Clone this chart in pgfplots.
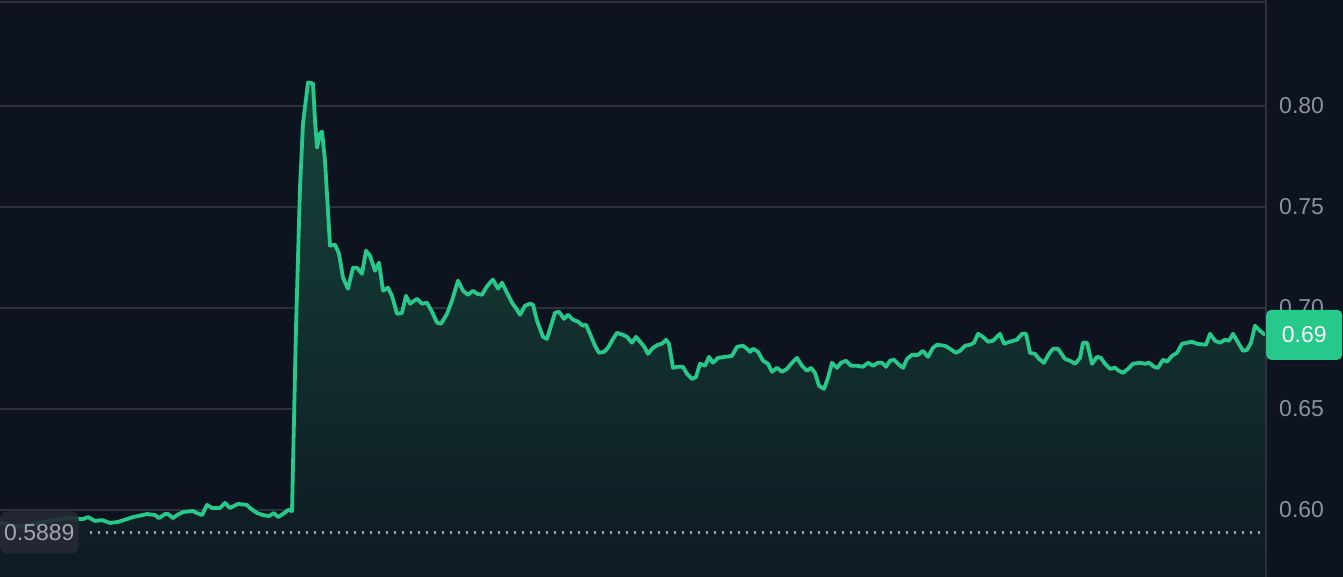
\documentclass[border=0pt]{standalone}
\usepackage{fontspec}
\setmainfont{Liberation Sans}
\usepackage{pgfplots}
\usepackage{pgfplotstable}
\pgfplotsset{compat=1.18}
\definecolor{bg}{RGB}{13,20,32}
\definecolor{gridc}{RGB}{44,49,61}
\definecolor{lbl}{RGB}{138,145,160}
\definecolor{lineg}{RGB}{38,201,138}
\definecolor{filltop}{RGB}{22,68,58}
\definecolor{fillbot}{RGB}{14,26,34}
\definecolor{tagbg}{RGB}{37,41,51}
\definecolor{dotc}{RGB}{160,166,176}

% x = time step, y = price
\pgfplotstableread{
x y
0 0.5936
7 0.5931
20 0.5916
33 0.5931
50 0.5946
67 0.5960
83 0.5955
88 0.5965
95 0.5946
102 0.5950
110 0.5936
118 0.5941
127 0.5955
133 0.5965
138 0.5970
147 0.5980
155 0.5975
159 0.5960
165 0.5980
168 0.5980
173 0.5960
177 0.5975
183 0.5990
193 0.5995
197 0.5985
202 0.5975
207 0.6025
212 0.6010
220 0.6010
225 0.6035
230 0.6010
238 0.6030
247 0.6025
250 0.6010
257 0.5985
263 0.5975
269 0.5970
274 0.5985
278 0.5965
283 0.5980
288 0.6000
292 0.5995
296 0.6901
300 0.7594
303 0.7911
308 0.8114
313 0.8109
315 0.7926
317 0.7792
320 0.7861
322 0.7871
325 0.7728
330 0.7307
335 0.7312
339 0.7267
343 0.7148
348 0.7094
353 0.7198
357 0.7198
362 0.7168
366 0.7282
370 0.7257
375 0.7183
379 0.7223
383 0.7084
388 0.7099
392 0.7059
397 0.6970
402 0.6975
406 0.7059
410 0.7020
417 0.7044
422 0.7020
427 0.7025
432 0.6980
437 0.6926
441 0.6921
447 0.6970
452 0.7035
458 0.7134
463 0.7084
468 0.7064
473 0.7084
477 0.7069
482 0.7064
486 0.7099
490 0.7124
493 0.7139
498 0.7094
502 0.7124
507 0.7074
512 0.7025
517 0.6990
520 0.6965
525 0.7010
530 0.7020
533 0.7015
537 0.6936
543 0.6856
547 0.6846
551 0.6911
555 0.6975
559 0.6980
564 0.6945
568 0.6965
573 0.6941
578 0.6931
583 0.6911
586 0.6916
590 0.6871
595 0.6812
599 0.6777
604 0.6782
608 0.6802
613 0.6846
617 0.6876
623 0.6866
627 0.6856
632 0.6827
636 0.6856
641 0.6827
645 0.6802
648 0.6772
653 0.6802
658 0.6817
662 0.6822
666 0.6842
669 0.6822
673 0.6703
678 0.6708
683 0.6708
687 0.6673
692 0.6648
696 0.6658
700 0.6723
705 0.6713
709 0.6757
713 0.6728
718 0.6752
725 0.6757
732 0.6762
737 0.6807
743 0.6812
747 0.6797
750 0.6782
753 0.6797
758 0.6782
763 0.6738
768 0.6723
772 0.6683
777 0.6703
782 0.6683
787 0.6698
792 0.6728
797 0.6752
802 0.6713
807 0.6688
811 0.6703
815 0.6678
819 0.6614
824 0.6599
828 0.6653
832 0.6728
837 0.6703
841 0.6728
846 0.6738
851 0.6713
857 0.6713
863 0.6708
868 0.6728
873 0.6713
878 0.6728
882 0.6728
886 0.6708
890 0.6738
894 0.6743
899 0.6718
903 0.6703
907 0.6747
912 0.6767
918 0.6767
923 0.6787
928 0.6757
933 0.6802
937 0.6817
945 0.6812
950 0.6797
956 0.6777
960 0.6787
965 0.6812
970 0.6817
974 0.6827
978 0.6871
983 0.6856
988 0.6832
993 0.6837
1000 0.6871
1004 0.6822
1010 0.6832
1017 0.6842
1022 0.6871
1026 0.6871
1030 0.6777
1035 0.6772
1039 0.6747
1044 0.6728
1049 0.6772
1053 0.6797
1058 0.6797
1065 0.6747
1070 0.6738
1075 0.6723
1080 0.6752
1083 0.6827
1087 0.6827
1092 0.6723
1097 0.6757
1101 0.6752
1105 0.6723
1110 0.6698
1115 0.6703
1119 0.6688
1123 0.6678
1128 0.6698
1133 0.6723
1140 0.6728
1145 0.6723
1149 0.6728
1154 0.6708
1158 0.6703
1163 0.6743
1167 0.6733
1172 0.6762
1177 0.6777
1182 0.6822
1192 0.6832
1197 0.6822
1206 0.6817
1210 0.6871
1215 0.6837
1220 0.6827
1225 0.6842
1229 0.6837
1233 0.6871
1237 0.6837
1243 0.6787
1247 0.6792
1251 0.6827
1255 0.6911
1260 0.6886
1265 0.6866
}\price

\begin{document}
\begin{tikzpicture}[x=1pt,y=1pt]
\fill[bg] (0,0) rectangle (1343,577);
\path[use as bounding box] (0,0) rectangle (1343,577);
\begin{axis}[
  at={(0,0)}, anchor=south west,
  scale only axis, width=1266pt, height=577pt,
  xmin=0, xmax=1266, ymin=0.56687, ymax=0.85217,
  axis line style={draw=none},
  tick style={draw=none},
  xtick=\empty,
  ytick={0.60,0.65,0.70,0.75,0.80},
  yticklabel pos=right,
  ymajorgrids,
  grid style={gridc, line width=2pt},
  /pgf/number format/assume math mode=true,
  yticklabel style={text=lbl, anchor=west, inner sep=0pt, xshift=13pt,
    font=\fontsize{23}{27}\selectfont,
    /pgf/number format/fixed, /pgf/number format/fixed zerofill,
    /pgf/number format/precision=2},
  clip=false,
]
\addplot[draw=none, top color=filltop, bottom color=fillbot] table[x=x,y=y] {\price} \closedcycle;
\addplot[lineg, line width=3.8pt, line join=round, line cap=round] table[x=x,y=y] {\price};
\draw[dotc, line width=2.2pt, dash pattern=on 2pt off 6pt] (axis cs:90,0.5889) -- (axis cs:1266,0.5889);
\draw[gridc, line width=2pt] (rel axis cs:0,0.9973) -- (rel axis cs:1,0.9973);
\draw[gridc, line width=2pt] (rel axis cs:1,0) -- (rel axis cs:1,1);
\node[anchor=west, fill=tagbg, fill opacity=0.9, text opacity=1, text=lbl!80!white, rounded corners=7pt,
  minimum height=42pt, inner xsep=4pt, font=\fontsize{23}{27}\selectfont]
  at (axis cs:0,0.5889) {0.5889};
\node[anchor=west, fill=lineg, text=white, rounded corners=5pt, minimum height=50pt,
  minimum width=76pt, font=\fontsize{23}{27}\selectfont]
  at (axis cs:1266,0.6866) {0.69};
\end{axis}
\end{tikzpicture}
\end{document}
